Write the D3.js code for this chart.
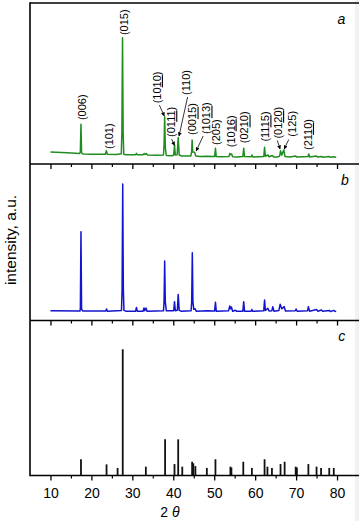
<!DOCTYPE html>
<html><head><meta charset="utf-8">
<script src="https://cdn.jsdelivr.net/npm/d3@7/dist/d3.min.js"></script>
<style>
html,body{margin:0;padding:0;background:#fff;}
svg{display:block;font-family:Arial,"Liberation Sans",sans-serif;}
</style></head>
<body>
<svg id="chart" width="359" height="521"></svg>
<script>
// ---------- data ----------
const xTicksMajor = [10,20,30,40,50,60,70,80];
const xTicksMinor = [15,25,35,45,55,65,75];
// panel a : experimental pattern (2θ, intensity a.u.)
const patternA = [[10,7.5],[14,7.0],[17.1,6.5],[17.3,7.5],[17.45,24.7],[17.6,7.0],[17.9,6.2],[20,6.1],[23.4,6.0],[23.65,8.2],[23.9,6.0],[26,5.9],[27.3,6.3],[27.45,20],[27.6,78.4],[27.75,20],[27.9,6.0],[28.5,5.8],[30.8,5.8],[31.0,6.6],[31.2,5.7],[32.6,5.7],[32.9,6.5],[33.1,5.9],[33.4,6.5],[33.7,5.6],[36,5.5],[37.6,5.6],[37.75,12],[37.9,29.4],[38.05,10],[38.3,5.3],[39.5,5.1],[40.1,5.4],[40.3,11.8],[40.5,5.6],[40.95,5.7],[41.2,16.5],[41.45,5.6],[42,5.0],[44.3,5.0],[44.5,8],[44.6,14.9],[44.75,7.5],[45.2,7.3],[45.5,5.0],[46.5,4.6],[48.2,4.8],[50.1,4.6],[50.3,9.8],[50.5,4.6],[51.5,4.5],[53.6,4.7],[53.85,6.6],[54.05,5.8],[54.25,6.2],[54.5,4.5],[55.5,4.4],[57.0,4.6],[57.2,9.8],[57.4,4.6],[59.0,4.5],[59.2,5.6],[59.4,4.4],[62.1,4.6],[62.3,10.4],[62.5,4.8],[63.1,5.6],[63.4,4.5],[64.2,5.3],[64.5,4.4],[65.5,4.4],[66.0,5.0],[66.2,8.3],[66.5,5.5],[67.0,8.7],[67.3,4.6],[68.5,4.3],[69.9,5.0],[70.2,4.3],[72.9,4.6],[73.1,6.2],[73.3,4.4],[75.0,5.0],[75.3,4.3],[76.2,4.7],[76.5,4.2],[78.1,4.6],[78.4,4.2],[79.2,4.5],[79.8,4.1]];
// panel b : second experimental pattern
const patternB = [[10,6.3],[17.2,6.1],[17.3,7.5],[17.45,57.1],[17.6,7.2],[17.9,6.1],[23.5,6.1],[23.7,7.4],[23.9,6.0],[27.35,6.5],[27.5,20],[27.65,87.8],[27.8,20],[27.95,6.5],[28.5,6.0],[30.8,6.0],[31.0,8.4],[31.2,6.0],[32.6,6.0],[32.85,8.0],[33.05,6.3],[33.35,8.0],[33.6,6.0],[37.6,6.2],[37.75,12],[37.9,38.3],[38.05,12],[38.3,6.2],[40.1,6.3],[40.3,12.1],[40.5,6.3],[41.0,6.6],[41.2,16.8],[41.45,6.5],[42,6.0],[44.35,6.3],[44.5,12],[44.65,43.6],[44.8,12],[45.0,7.2],[45.3,7.6],[45.6,6.0],[48.2,6.2],[50.1,6.1],[50.3,11.7],[50.5,6.0],[53.5,6.2],[53.8,9.3],[54.0,7.5],[54.2,8.7],[54.5,6.0],[55.2,6.6],[55.5,5.9],[57.0,6.0],[57.2,12.1],[57.4,6.0],[59.0,6.0],[59.2,7.1],[59.4,5.9],[62.1,6.2],[62.3,13.2],[62.5,6.5],[63.1,7.8],[63.4,6.1],[64.1,6.3],[64.3,8.9],[64.6,6.0],[65.8,6.5],[66.1,10.4],[66.5,7.5],[67.1,8.9],[67.4,6.1],[69.8,6.3],[70.0,7.4],[70.3,5.9],[72.8,6.2],[73.0,8.9],[73.3,6.0],[75.0,7.1],[75.3,6.0],[76.2,6.8],[76.5,5.9],[78.1,6.5],[78.4,5.8],[79.2,6.5],[79.5,5.9],[79.8,5.8]];
// panel c : reference stick pattern
const stickPos = [17.45,23.7,26.4,27.65,33.3,38.0,40.3,41.2,42.2,44.6,44.9,45.4,48.2,50.3,53.95,54.2,57.1,59.2,62.3,63.0,64.1,66.2,67.2,69.9,70.2,73.0,75.0,76.1,78.1,79.2];
const stickInt = [10.5,7.2,4.9,81.7,5.7,23.4,7.4,23.4,5.7,8.9,7.9,6.1,4.9,10.5,5.7,5.2,8.9,4.9,10.5,5.7,4.9,7.4,8.9,5.7,5.2,7.4,5.7,4.9,4.9,4.9];
// peak labels of panel a ([..] = underlined digits)
const labelText = ["(006)","(101)","(015)","(10[10])","(01[11])","(110)","(00[15])","(10[13])","(205)","(10[16])","(02[10])","(11[15])","(01[20])","(125)","(21[10])"];
const label2t   = [17.8,24.2,27.9,36.0,39.5,43.2,44.7,48.1,50.5,54.0,57.4,62.5,65.6,68.9,72.9];
const labelI    = [27.3,9.3,80.1,37.7,16.8,42.9,18.0,18.6,11.8,10.4,12.9,13.9,15.8,17.0,8.7];
const arrowFrom2t = [36.6,39.6,43.5,47.3,65.4,68.2];
const arrowFromI  = [36.6,15.5,41.6,17.4,14.6,15.2];
const arrowTo2t   = [37.8,40.3,41.4,45.6,66.1,67.1];
const arrowToI    = [29.8,11.6,17.4,8.1,9.3,9.3];
const panelNames = ["a","b","c"];

// ---------- layout ----------
const svg = d3.select("#chart");
const left = 30, right = 357.5, edge = 359;
const x = d3.scaleLinear().domain([5,85]).range([left,right]);
const panels = [
  {top:3, bottom:164},
  {top:165, bottom:320.5},
  {top:321, bottom:475.5}
];
const ys = panels.map(p => d3.scaleLinear().domain([0,100]).range([p.bottom,p.top]));

// light edge band at the right
svg.append("rect").attr("x",355).attr("y",0).attr("width",4).attr("height",521).attr("fill","#f2f2f2");

svg.append("path").datum(patternA)
  .attr("d", d3.line().x(d=>x(d[0])).y(d=>ys[0](d[1])))
  .attr("fill","none").attr("stroke","#1f8c1f").attr("stroke-width",1.5).attr("stroke-linejoin","round");
svg.append("path").datum(patternB)
  .attr("d", d3.line().x(d=>x(d[0])).y(d=>ys[1](d[1])))
  .attr("fill","none").attr("stroke","#1414cc").attr("stroke-width",1.5).attr("stroke-linejoin","round");
svg.append("g").selectAll("line").data(stickPos).join("line")
  .attr("x1",d=>x(d)).attr("x2",d=>x(d))
  .attr("y1",ys[2](0)).attr("y2",(d,i)=>ys[2](stickInt[i]))
  .attr("stroke","#111").attr("stroke-width",1.8);

// axes
panels.forEach((p,i)=>{
  const major = d3.axisBottom(x).tickValues(xTicksMajor).tickSize(5).tickSizeOuter(0).tickPadding(8)
     .tickFormat(i===2 ? d3.format("d") : ()=> "");
  const g = svg.append("g").attr("transform",`translate(0,${p.bottom})`).call(major);
  g.select(".domain").remove();
  g.selectAll(".tick line").attr("stroke","#000").attr("stroke-width",1.3);
  g.selectAll(".tick text").attr("font-size",14).attr("fill","#000").attr("font-family","Arial, 'Liberation Sans', sans-serif");
  const minor = d3.axisBottom(x).tickValues(xTicksMinor).tickSize(3).tickFormat(()=> "");
  const gm = svg.append("g").attr("transform",`translate(0,${p.bottom})`).call(minor);
  gm.select(".domain").remove();
  gm.selectAll(".tick line").attr("stroke","#000").attr("stroke-width",1.2);
  svg.append("line").attr("x1",left).attr("x2",edge).attr("y1",p.bottom).attr("y2",p.bottom)
    .attr("stroke","#000").attr("stroke-width",1.6);
});
// top border and left axis
svg.append("line").attr("x1",left).attr("x2",edge).attr("y1",panels[0].top).attr("y2",panels[0].top)
  .attr("stroke","#000").attr("stroke-width",1.6);
svg.append("line").attr("x1",left).attr("x2",left).attr("y1",panels[0].top-0.8).attr("y2",panels[2].bottom+0.8)
  .attr("stroke","#000").attr("stroke-width",1.6);

// panel names
const nameY = [24,185,340.5], nameX=[337.5,341,338.3];
panelNames.forEach((n,i)=>{
  svg.append("text").attr("x",nameX[i]).attr("y",nameY[i]).text(n)
    .attr("font-size",14).attr("font-style","italic").attr("fill","#000");
});

// peak labels
const lg = svg.append("g");
labelText.forEach((t,i)=>{
  const tx = x(label2t[i]), ty = ys[0](labelI[i]);
  const txt = lg.append("text").attr("transform",`translate(${tx},${ty}) rotate(-90)`)
     .attr("dy","0.36em").attr("font-size",11).attr("fill","#000");
  t.split(/(\[[^\]]*\])/).filter(s=>s.length).forEach(s=>{
    if (s[0]==="[") txt.append("tspan").text(s.slice(1,-1)).style("text-decoration","underline");
    else txt.append("tspan").text(s);
  });
});
// arrows
const defs = svg.append("defs");
defs.append("marker").attr("id","ah").attr("viewBox","0 0 10 10").attr("refX",9).attr("refY",5)
  .attr("markerWidth",5).attr("markerHeight",5).attr("orient","auto")
  .append("path").attr("d","M0,0 L10,5 L0,10 z").attr("fill","#000");
lg.selectAll("line.arrow").data(arrowFrom2t).join("line").attr("class","arrow")
  .attr("x1",(d,i)=>x(d)).attr("y1",(d,i)=>ys[0](arrowFromI[i]))
  .attr("x2",(d,i)=>x(arrowTo2t[i])).attr("y2",(d,i)=>ys[0](arrowToI[i]))
  .attr("stroke","#000").attr("stroke-width",0.8).attr("marker-end","url(#ah)");

// axis titles
svg.append("text").attr("transform","translate(16,240) rotate(-90)")
  .attr("text-anchor","middle").attr("font-size",15.5).attr("fill","#000").text("intensity, a.u.");
const xt = svg.append("text").attr("x",170).attr("y",516.5).attr("text-anchor","middle").attr("font-size",14).attr("fill","#000");
xt.append("tspan").text("2 ");
xt.append("tspan").attr("font-style","italic").text("θ");
</script>
</body></html>
